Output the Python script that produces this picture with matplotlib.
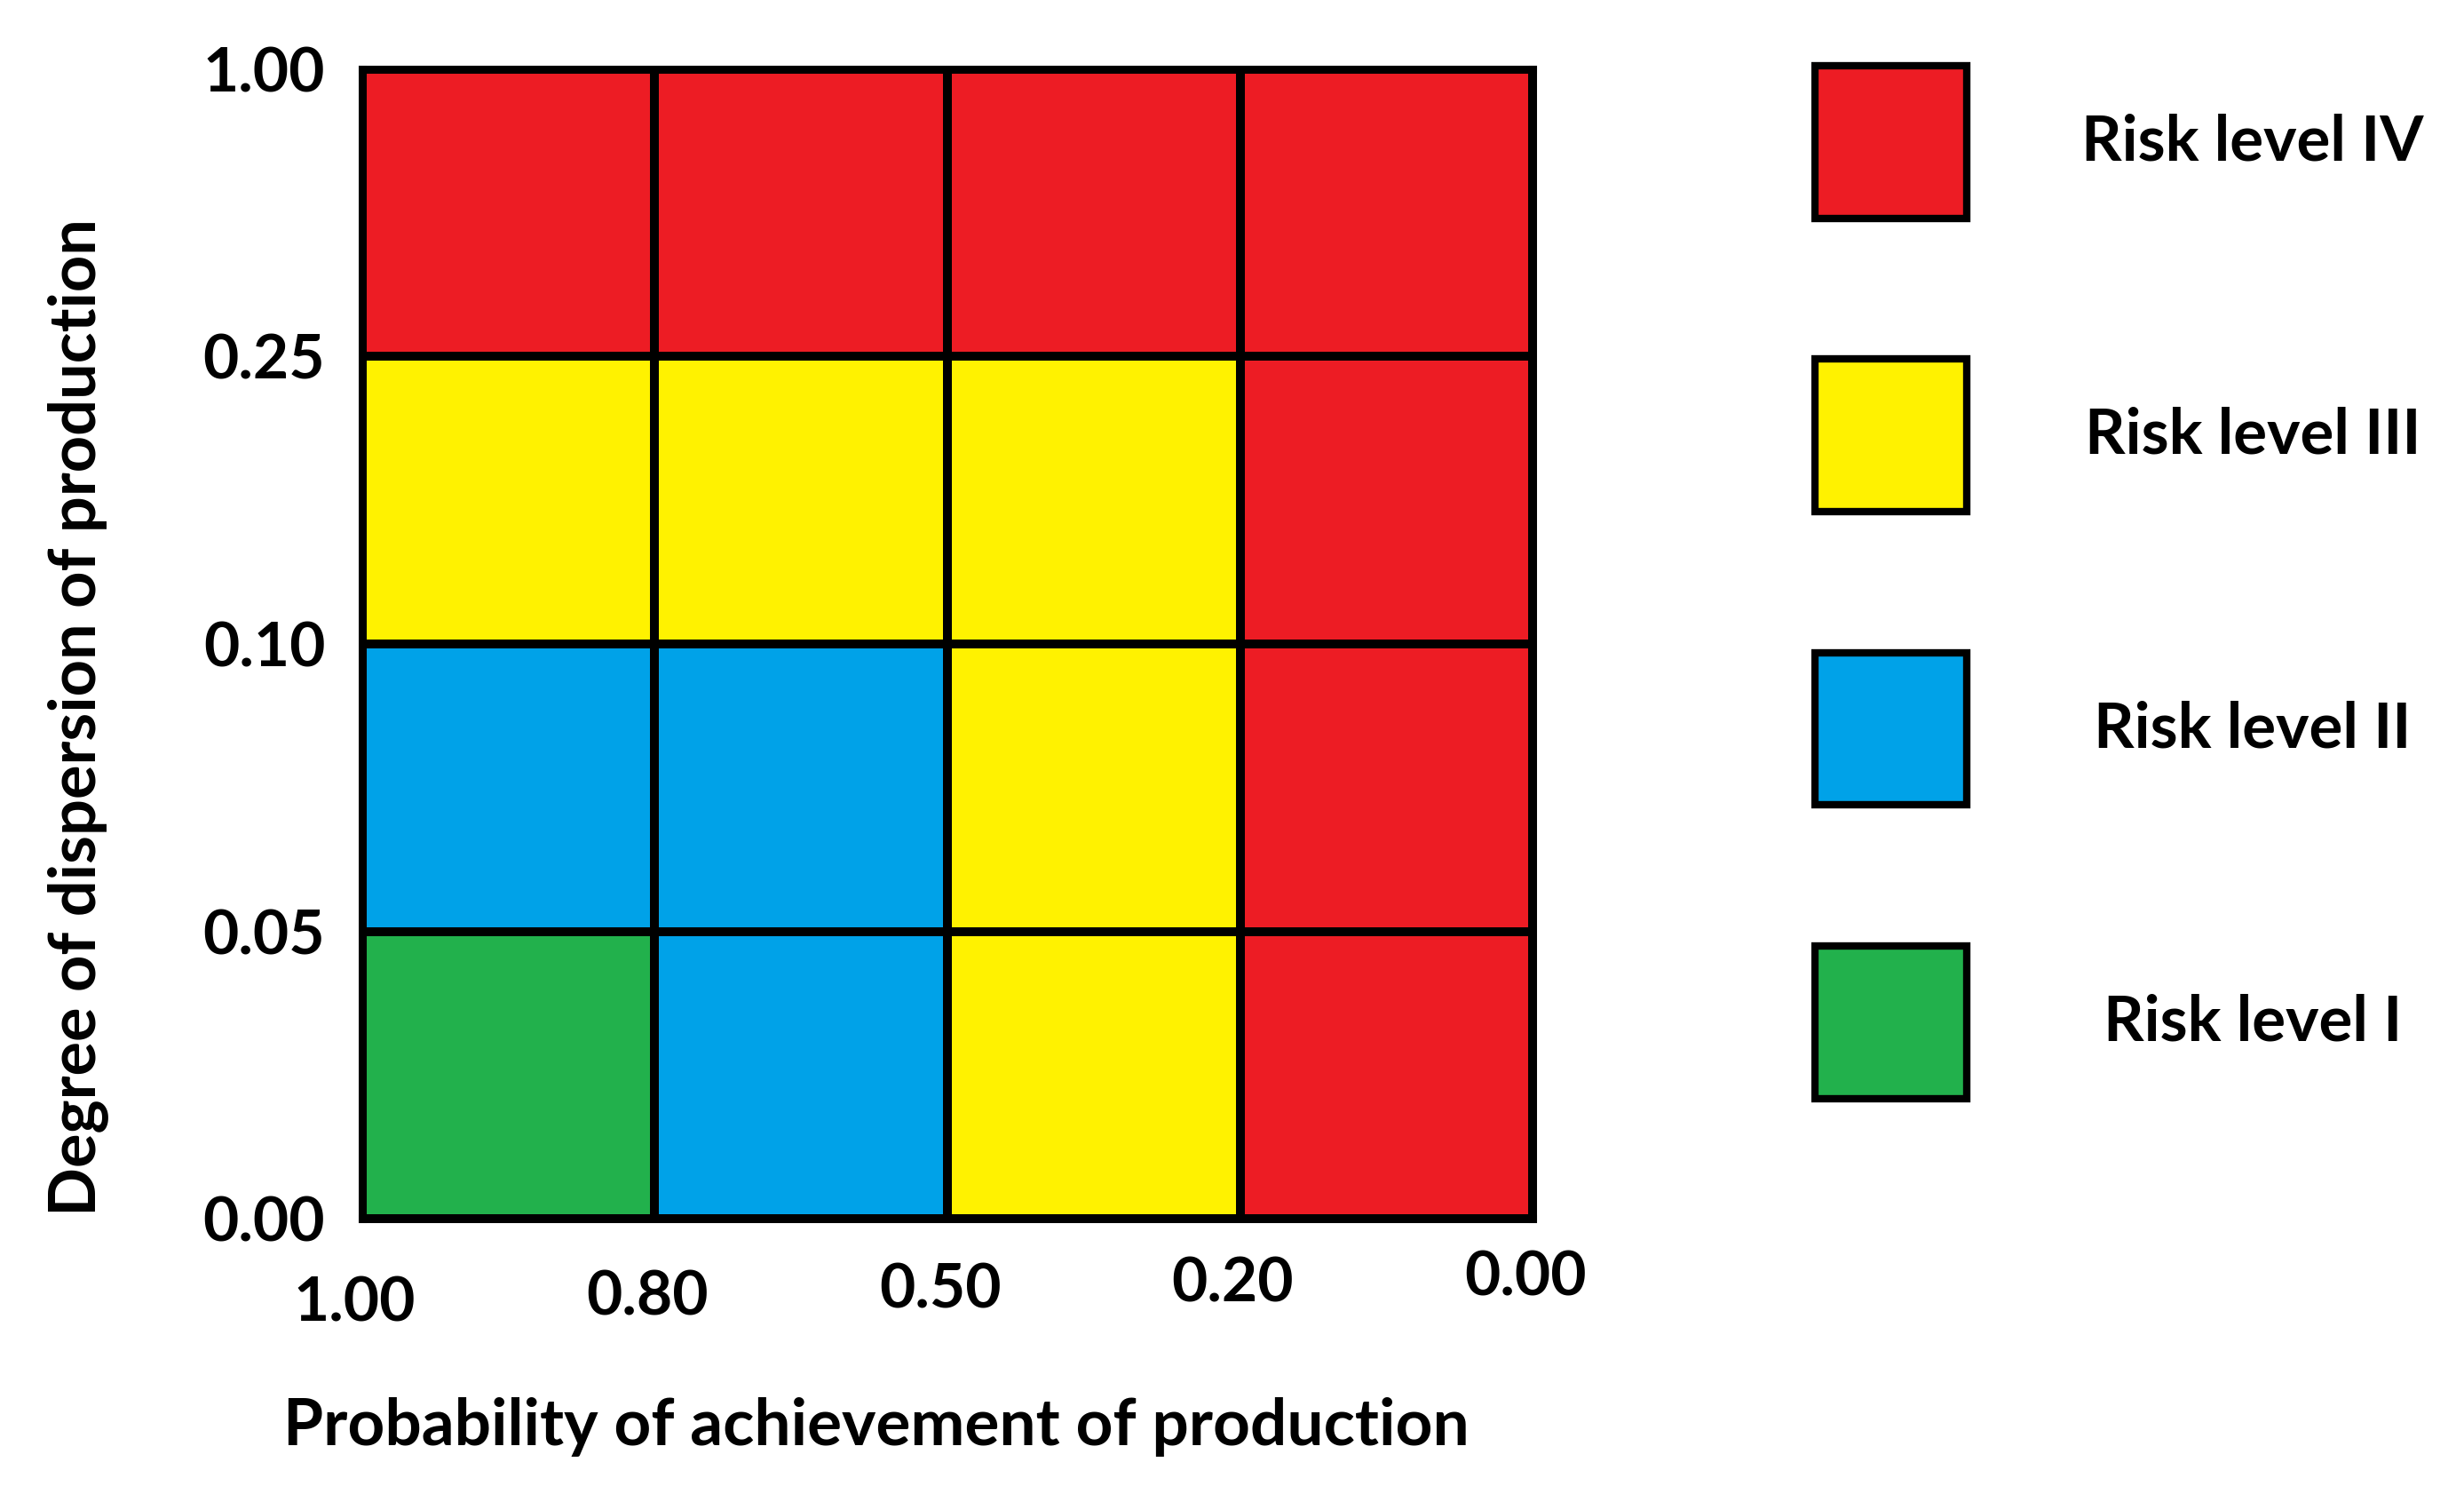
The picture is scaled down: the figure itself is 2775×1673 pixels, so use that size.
import matplotlib
matplotlib.use('Agg')
import matplotlib.pyplot as plt
from matplotlib.colors import ListedColormap
from matplotlib.patches import Rectangle
import numpy as np

# axis labels (boundaries of the classes)
prob_labels = ['1.00', '0.80', '0.50', '0.20', '0.00']
disp_labels = ['0.00', '0.05', '0.10', '0.25', '1.00']

# risk level of each cell, rows from bottom (low dispersion) to top
risk_grid = [
    [1, 2, 3, 4],
    [2, 2, 3, 4],
    [3, 3, 3, 4],
    [4, 4, 4, 4],
]

level_names = ['Risk level I', 'Risk level II', 'Risk level III', 'Risk level IV']
level_colors = ['#22B14C', '#00A2E8', '#FFF200', '#ED1C24']

plt.rcParams['font.family'] = ['Lato', 'DejaVu Sans']
plt.rcParams['font.weight'] = 'bold'

fig = plt.figure(figsize=(27.75, 16.73), dpi=100)
ax = fig.add_axes([0.1470, 0.1799, 0.4750, 0.7735])

cmap = ListedColormap(level_colors)
ax.pcolormesh(np.array(risk_grid), cmap=cmap, vmin=0.5, vmax=4.5,
              edgecolors='black', linewidth=6)
ax.set_xlim(0, 4)
ax.set_ylim(0, 4)
for sp in ax.spines.values():
    sp.set_linewidth(6.5)

ax.set_yticks(range(len(disp_labels)), disp_labels)
ax.tick_params(axis='y', length=0, pad=30, labelsize=50)
ax.set_xticks([])

# x tick labels drift slightly upwards to the right, as in the original
for i, lab in enumerate(prob_labels):
    ax.annotate(lab, xy=(i, 0), xycoords=('data', 'axes fraction'),
                xytext=(-6, -(69 - 5.2 * i)), textcoords='offset points',
                ha='center', va='center', fontsize=50, fontweight='bold')

fig.text(0.3557, 0.0275, 'Probability of achievement of production',
         ha='center', va='baseline', fontsize=52.5, fontweight='bold')
fig.text(0.0317, 0.5170, 'Degree of dispersion of production',
         rotation=90, ha='center', va='center', fontsize=52, fontweight='bold')

# legend panel, highest level on top
lax = fig.add_axes([2040 / 2775, 0.2134, 700 / 2775, 0.7896])
lax.set_xlim(0, 1)
lax.set_ylim(len(level_names), 0)
lax.axis('off')
for k, (name, col) in enumerate(zip(level_names[::-1], level_colors[::-1])):
    lax.add_patch(Rectangle((0.005, k + 0.24), 0.245, 0.52, facecolor=col,
                            edgecolor='black', linewidth=6))
    lax.text(0.71, k + 0.5, name, ha='center', va='center',
             fontsize=51, fontweight='bold')

fig.savefig('out.png', dpi=100)
